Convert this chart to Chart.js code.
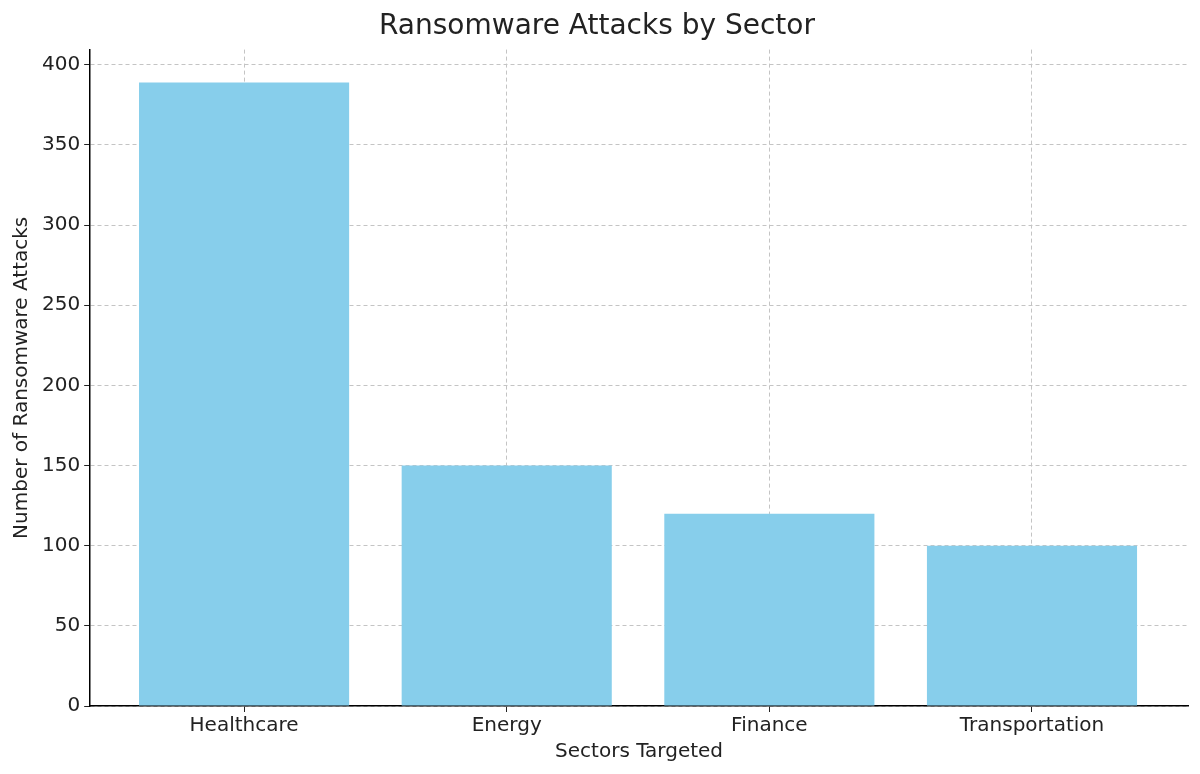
<!DOCTYPE html>
<html>
<head>
<meta charset="utf-8">
<script src="https://cdn.jsdelivr.net/npm/chart.js@4"></script>
<style>
  body { margin: 0; background: #fff; }
  #wrap { width: 1200px; height: 774px; }
</style>
</head>
<body>
<div id="wrap"><canvas id="sectorChart"></canvas></div>
<script>
const sectors = ["Healthcare", "Energy", "Finance", "Transportation"];
const attacks = [389, 150, 120, 100];
const yTicks = [0, 50, 100, 150, 200, 250, 300, 350, 400];

const font = "'DejaVu Sans', sans-serif";

new Chart(document.getElementById("sectorChart"), {
    type: "bar",
    data: {
        datasets: [{
            data: attacks.map((v, i) => ({ x: i, y: v })),
            backgroundColor: "#87ceeb",
            barPercentage: 0.8,
            categoryPercentage: 1.0
        }]
    },
    options: {
        responsive: true,
        maintainAspectRatio: false,
        animation: false,
        layout: { padding: { top: 4, right: 12, left: 6, bottom: 6 } },
        plugins: {
            legend: { display: false },
            tooltip: { enabled: false },
            title: {
                display: true,
                text: "Ransomware Attacks by Sector",
                color: "#222",
                font: { family: font, size: 28, weight: "normal" },
                padding: { top: 6, bottom: 6 }
            }
        },
        scales: {
            x: {
                type: "linear",
                offset: false,
                min: -0.586,
                max: 3.594,
                afterBuildTicks: axis => { axis.ticks = sectors.map((s, i) => ({ value: i })); },
                ticks: {
                    callback: v => sectors[v],
                    color: "#222",
                    font: { family: font, size: 20 },
                    padding: 2
                },
                grid: { offset: false, color: "#c4c4c4", tickColor: "#222", tickLength: 6 },
                border: { color: "#000", width: 1.5, dash: [4, 3] },
                title: {
                    display: true,
                    text: "Sectors Targeted",
                    color: "#222",
                    font: { family: font, size: 20 },
                    padding: { top: 0 }
                }
            },
            y: {
                min: 0,
                max: 409.5,
                afterBuildTicks: axis => { axis.ticks = yTicks.map(v => ({ value: v })); },
                ticks: {
                    color: "#222",
                    font: { family: font, size: 20 },
                    padding: 4
                },
                grid: { color: "#c4c4c4", tickColor: "#222", tickLength: 6 },
                border: { color: "#000", width: 1.5, dash: [4, 3] },
                title: {
                    display: true,
                    text: "Number of Ransomware Attacks",
                    color: "#222",
                    font: { family: font, size: 20 },
                    padding: { bottom: 4 }
                }
            }
        }
    }
});
</script>
</body>
</html>
